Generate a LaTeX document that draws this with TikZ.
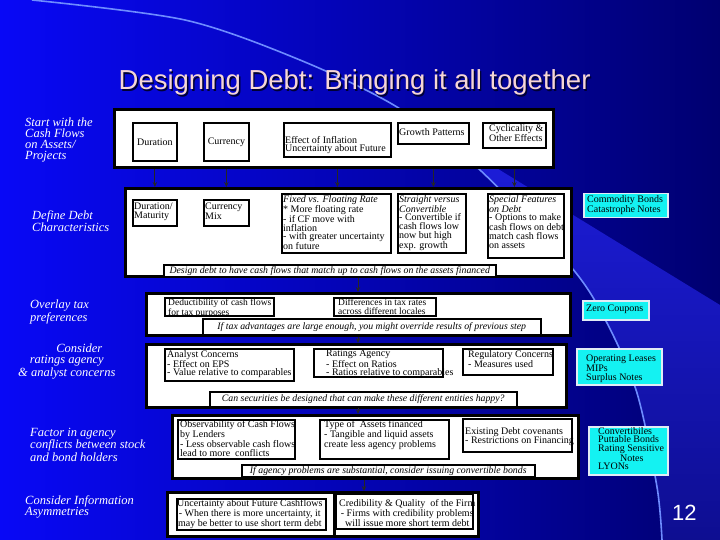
\documentclass[tikz,border=0pt]{standalone}
\usepackage{fontspec}
\setmainfont{Liberation Serif}
\newfontfamily\arialf{Liberation Sans}
\usetikzlibrary{arrows.meta,calc}
\definecolor{bgL}{RGB}{8,8,246}
\definecolor{bgR}{RGB}{0,0,112}
\definecolor{bgHiT}{RGB}{30,30,225}
\definecolor{bgHiB}{RGB}{14,14,145}
\definecolor{arcc}{RGB}{110,140,255}
\definecolor{titlec}{RGB}{246,214,214}
\definecolor{cyanfill}{RGB}{20,242,242}
\definecolor{cyanedge}{RGB}{225,235,245}
\tikzset{
  bigbox/.style={draw=black, line width=3pt, fill=white, inner sep=0pt, anchor=north west},
  ibox/.style={draw=black, line width=1.8pt, fill=white, inner sep=0pt, anchor=north west},
  capbox/.style={draw=black, line width=1.5pt, fill=white, inner sep=0pt, anchor=north west,
     font=\itshape\fontsize{9.8}{10}\selectfont},
  cyanbox/.style={draw=cyanedge, line width=1.5pt, fill=cyanfill, inner sep=0pt, anchor=north west},
  txt/.style={inner sep=0pt, anchor=north west, align=left, font=\fontsize{10}{8.6}\selectfont},
  lab/.style={text=white, font=\itshape\fontsize{12.5}{11}\selectfont, align=left, inner sep=0pt, anchor=north west},
  arr/.style={draw=black!85, line width=1pt, -{Stealth[length=5pt,width=4.5pt]}}
}
\begin{document}
\begin{tikzpicture}[x=1pt,y=-1pt]
\useasboundingbox (0,0) rectangle (720,540);
% background
\shade[left color=bgL, right color=bgR] (0,0) rectangle (720,540);
\shade[top color=bgHiT, bottom color=bgHiB]
  plot[smooth] coordinates {(410,115) (480,170) (572,268) (607,323) (637,393) (657,487) (662,540)}
  -- (720,540) -- (720,305) -- cycle;
\draw[arcc, line width=1.6pt] plot[smooth] coordinates {(32,0) (185,20) (300,60) (397,107) (480,170) (572,268) (607,323) (637,393) (657,487) (662,540)};

% title
\node[text=black!80!blue, font=\arialf\fontsize{27.5}{27.5}\selectfont, inner sep=0pt] at (356,84) {Designing Debt: Bringing it all together};
\node[text=titlec, font=\arialf\fontsize{27.5}{27.5}\selectfont, inner sep=0pt] (title) at (354.6,82.6) {Designing Debt: Bringing it all together};

% left labels
\node[lab] (l1) at (25,118) {Start with the\\Cash Flows\\on Assets/\\Projects};
\node[lab] (l2) at (32,210) {Define Debt\\Characteristics};
\node[lab] (l3) at (30,300) {Overlay tax\\preferences};
\node[lab, align=center] (l4) at (18,344) {\hspace*{2em}Consider\\ratings agency\\\& analyst concerns};
\node[lab] (l5) at (30,428) {Factor in agency\\conflicts between stock\\and bond holders};
\node[lab] (l6) at (25,495) {Consider Information\\Asymmetries};

% row 1
\node[bigbox, minimum width=439pt, minimum height=58pt] (big1) at (113,108) {};
\node[ibox, minimum width=44pt, minimum height=38pt, font=\fontsize{10}{8.6}\selectfont] (dur1) at (132,122) {Duration};
\node[ibox, minimum width=45pt, minimum height=38pt, font=\fontsize{10}{8.6}\selectfont] (cur1) at (203,122) {Currency};
\node[ibox, minimum width=107pt, minimum height=34pt] (inf1) at (283,122) {};
\node[txt] (inf1t) at (285,136) {Effect of Inflation\\Uncertainty about Future};
\node[ibox, minimum width=71pt, minimum height=21pt] (gro1) at (397,122) {};
\node[txt] (gro1t) at (399,128) {Growth Patterns};
\node[ibox, minimum width=63pt, minimum height=25pt] (cyc1) at (482,122) {};
\node[txt] (cyc1t) at (489,124) {Cyclicality \&\\Other Effects};

% row 2
\node[bigbox, minimum width=446pt, minimum height=88pt] (big2) at (124,187) {};
\node[ibox, minimum width=44pt, minimum height=26pt] (dur2) at (132,199) {};
\node[txt] (dur2t) at (134,203) {Duration/\\Maturity};
\node[ibox, minimum width=45pt, minimum height=26pt] (cur2) at (203,199) {};
\node[txt] (cur2t) at (205,203) {Currency\\Mix};
\node[ibox, minimum width=109pt, minimum height=59pt] (fix2) at (281,193) {};
\node[txt] (fix2t) at (283,195) {\textit{Fixed vs. Floating Rate}\\* More floating rate\\- if CF move with\\inflation\\- with greater uncertainty\\on future};
\node[ibox, minimum width=68pt, minimum height=59pt] (str2) at (397,193) {};
\node[txt] (str2t) at (399,195) {\textit{Straight versus}\\\textit{Convertible}\\- Convertible if\\cash flows low\\now but high\\exp. growth};
\node[ibox, minimum width=76pt, minimum height=64pt] (spe2) at (487,193) {};
\node[txt] (spe2t) at (489,195) {\textit{Special Features}\\\textit{on Debt}\\- Options to make\\cash flows on debt\\match cash flows\\on assets};
\node[capbox, minimum width=332pt, minimum height=12pt] (cap2) at (163,264) {Design debt to have cash flows that match up to cash flows on the assets financed};
\node[cyanbox, minimum width=84pt, minimum height=24pt] (com) at (583,193) {};
\node[txt] (comt) at (587,195) {Commodity Bonds\\Catastrophe Notes};

% row 3
\node[bigbox, minimum width=424pt, minimum height=42pt] (big3) at (145,292) {};
\node[ibox, minimum width=109pt, minimum height=18pt] (ded3) at (164,297) {};
\node[txt, font=\fontsize{9.5}{8.3}\selectfont] (ded3t) at (168,299) {Deductibility of cash flows\\for tax purposes};
\node[ibox, minimum width=102pt, minimum height=18pt] (dif3) at (333,297) {};
\node[txt, font=\fontsize{9.5}{8.3}\selectfont] (dif3t) at (338,299) {Differences in tax rates\\across different locales};
\node[capbox, minimum width=338pt, minimum height=16pt] (cap3) at (202,318) {If tax advantages are large enough, you might override results of previous step};
\node[cyanbox, minimum width=66pt, minimum height=19pt] (zero) at (582,300) {};
\node[txt, anchor=west] (zerot) at (586,309) {Zero Coupons};

% row 4
\node[bigbox, minimum width=420pt, minimum height=63pt] (big4) at (145,343) {};
\node[ibox, minimum width=129pt, minimum height=32pt] (ana4) at (164,348) {};
\node[txt] (ana4t) at (167,350) {Analyst Concerns\\- Effect on EPS\\- Value relative to comparables};
\node[ibox, minimum width=129pt, minimum height=28pt] (rat4) at (313,348) {};
\node[txt] (rat4t) at (326,350) {Ratings Agency\\- Effect on Ratios\\- Ratios relative to comparables};
\node[ibox, minimum width=90pt, minimum height=26pt] (reg4) at (462,348) {};
\node[txt] (reg4t) at (468,350) {Regulatory Concerns\\- Measures used};
\node[capbox, minimum width=307pt, minimum height=15pt] (cap4) at (209,391) {Can securities be designed that can make these different entities happy?};
\node[cyanbox, minimum width=85pt, minimum height=36pt] (ope) at (576,348) {};
\node[txt] (opet) at (586,355) {Operating Leases\\MIPs\\Surplus Notes};

% row 5
\node[bigbox, minimum width=406pt, minimum height=63pt] (big5) at (171,414) {};
\node[ibox, minimum width=117pt, minimum height=39pt] (obs5) at (177,419) {};
\node[txt] (obs5t) at (180,420) {Observability of Cash Flows\\by Lenders\\- Less observable cash flows\\lead to more\ \ conflicts};
\node[ibox, minimum width=129pt, minimum height=39pt] (typ5) at (319,419) {};
\node[txt] (typ5t) at (324,420) {Type of\ \ Assets financed\\- Tangible and liquid assets\\create less agency problems};
\node[ibox, minimum width=109pt, minimum height=33pt] (exi5) at (462,418) {};
\node[txt] (exi5t) at (465,427) {Existing Debt covenants\\- Restrictions on Financing};
\node[capbox, minimum width=293pt, minimum height=12pt] (cap5) at (241,464) {If agency problems are substantial, consider issuing convertible bonds};
\node[cyanbox, minimum width=79pt, minimum height=48pt] (conv) at (588,426) {};
\node[txt] (convt) at (598,427) {Convertibiles\\Puttable Bonds\\Rating Sensitive\\\hspace*{2.2em}Notes\\LYONs};

% row 6
\node[bigbox, minimum width=167pt, minimum height=44pt] (out6a) at (166,491) {};
\node[bigbox, minimum width=144pt, minimum height=44pt] (out6b) at (333,491) {};
\node[ibox, minimum width=149pt, minimum height=31pt] (unc6) at (176,498) {};
\node[txt, align=center] (unc6t) at (177,499) {Uncertainty about Future Cashflows\\- When there is more uncertainty, it\\may be better to use short term debt};
\node[ibox, minimum width=137pt, minimum height=35pt] (cre6) at (335,493) {};
\node[txt, align=center] (cre6t) at (339,499) {Credibility \& Quality\ \ of the Firm\\- Firms with credibility problems\\will issue more short term debt};

% connectors
\draw[arr] (dur1.south |- big1.south) -- (dur1.south |- big2.north);
\draw[arr] (cur1.south |- big1.south) -- (cur1.south |- big2.north);
\draw[arr] (inf1.south |- big1.south) -- (inf1.south |- big2.north);
\draw[arr] (gro1.south |- big1.south) -- (gro1.south |- big2.north);
\draw[arr] (cyc1.south |- big1.south) -- (cyc1.south |- big2.north);
\coordinate (xa) at (358,0);
\coordinate (xb) at (364,0);
\draw[arr] (xa |- cap2.south) -- (xa |- big3.north);
\draw[arr] (xa |- big3.south) -- (xa |- big4.north);
\draw[arr] (xa |- cap4.south) -- (xa |- big5.north);
\draw[arr] (xb |- big5.south) -- (xb |- out6b.north);

% page number
\node[text=white, font=\arialf\fontsize{22}{22}\selectfont, inner sep=0pt, anchor=north west] (pnum) at (672,505) {12};
\end{tikzpicture}
\end{document}
